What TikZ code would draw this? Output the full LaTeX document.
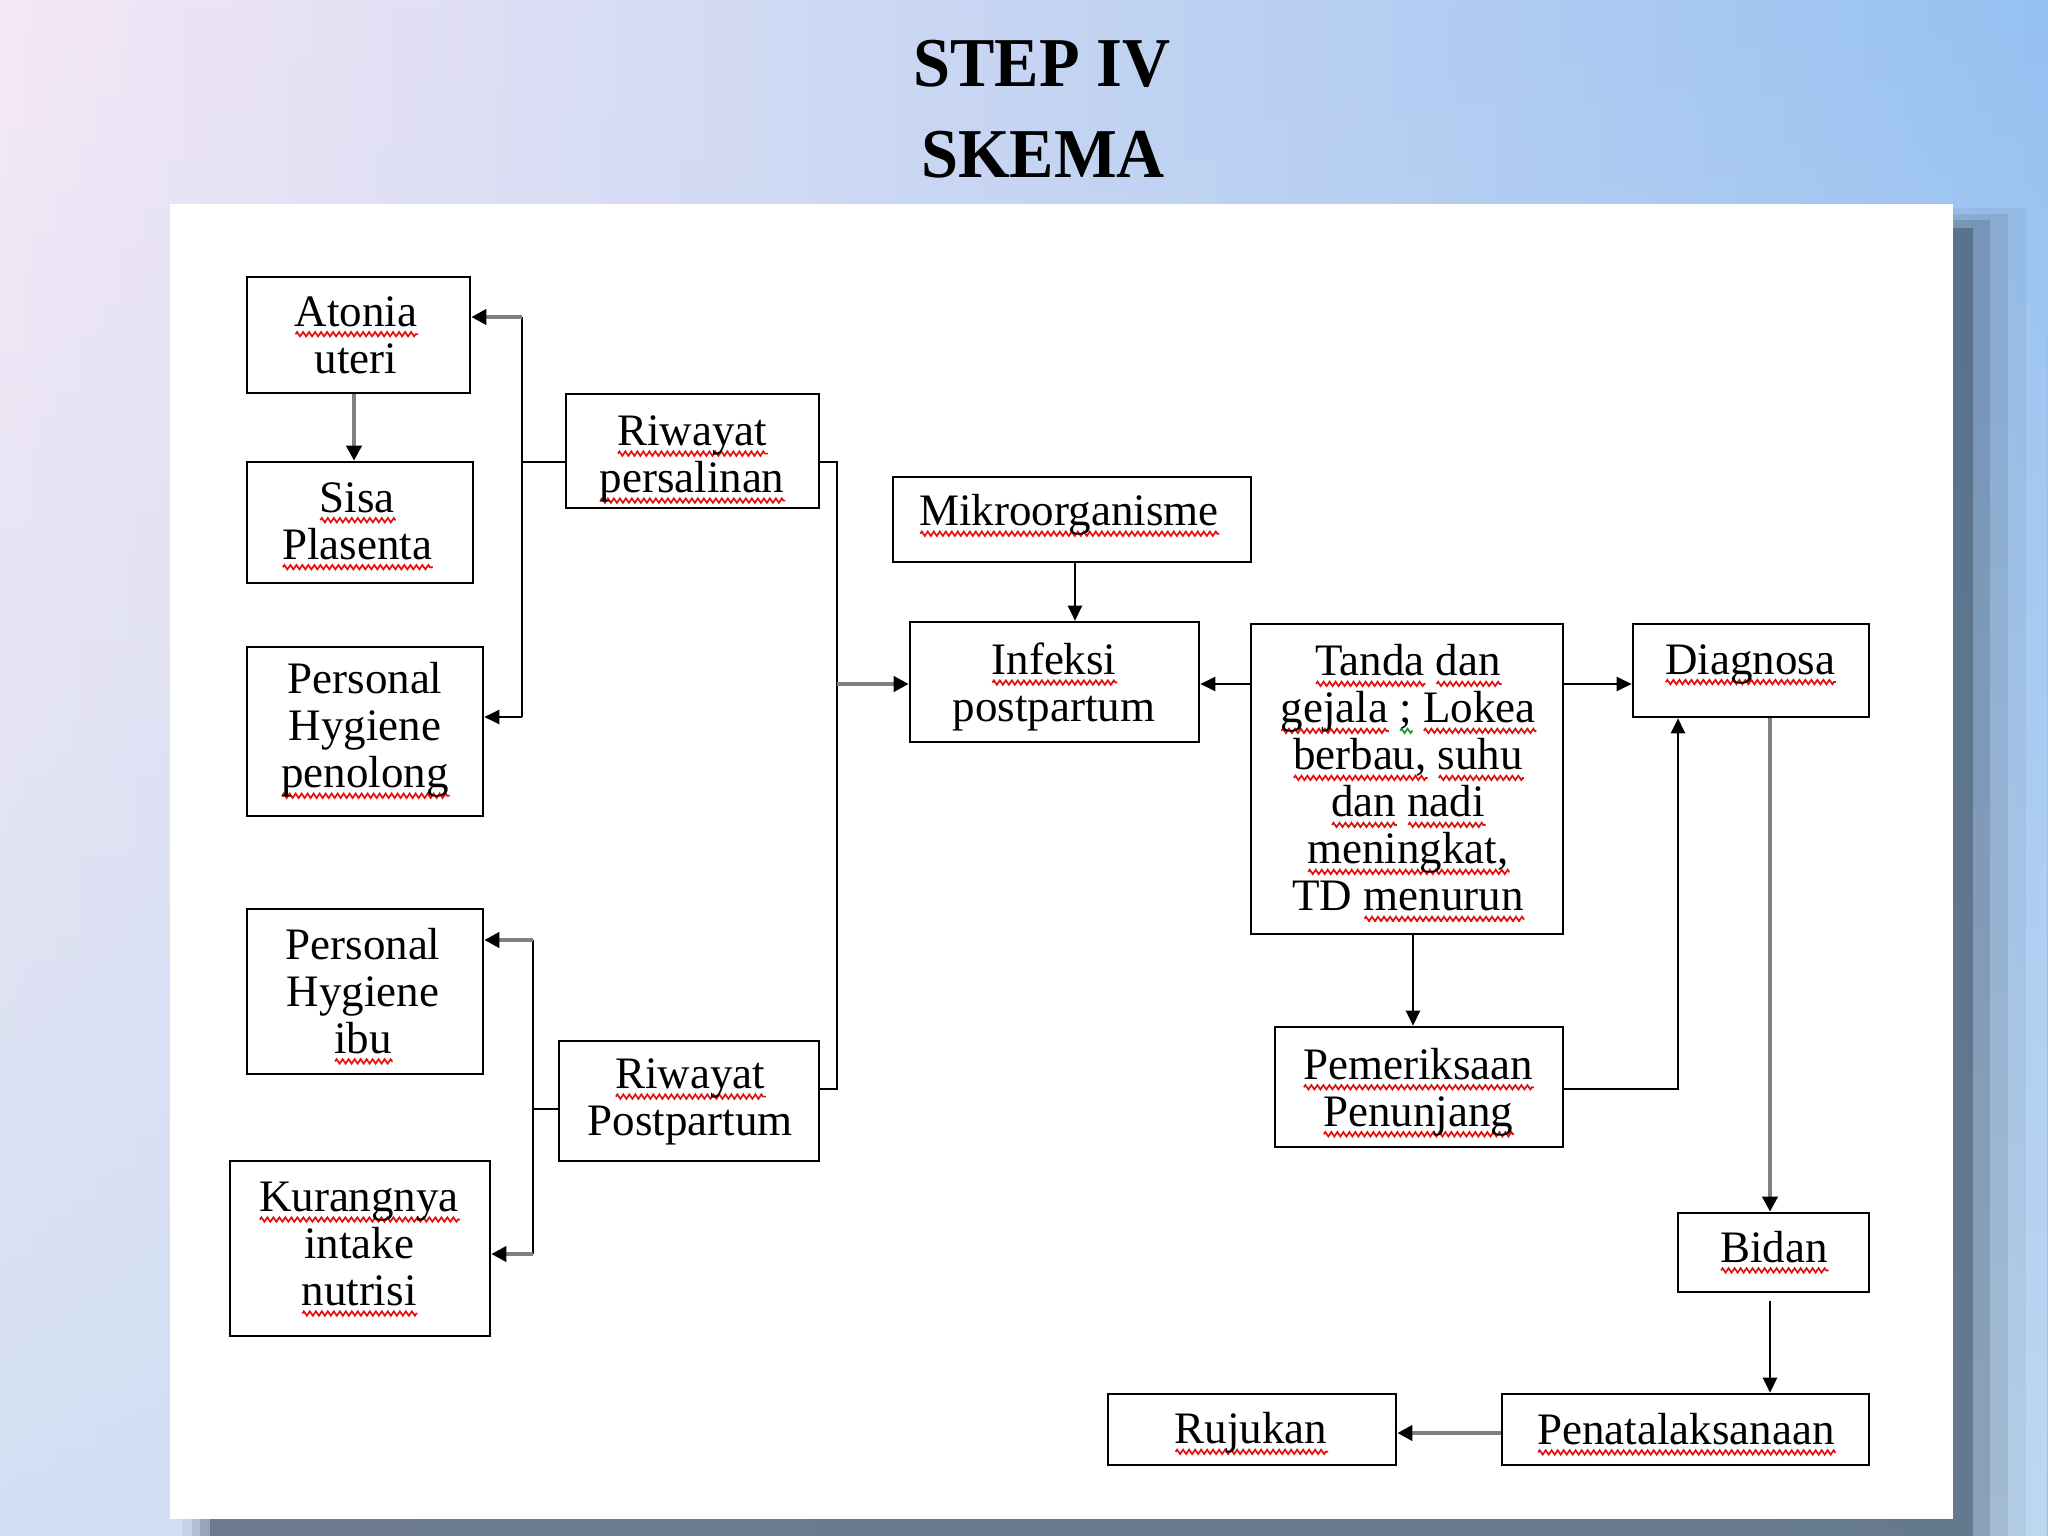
\documentclass[tikz,border=0pt]{standalone}
\usepackage{fontspec}
\setmainfont{Liberation Serif}
\usetikzlibrary{arrows.meta,decorations.pathmorphing,calc,fadings}
\definecolor{bgL}{HTML}{F5E8F6}
\definecolor{bgR}{HTML}{96C1F1}
\definecolor{bgB}{HTML}{C9DDF1}
\definecolor{shd}{HTML}{2E3E50}
\definecolor{sqred}{HTML}{E01010}
\definecolor{sqgreen}{HTML}{10A020}
\definecolor{lgray}{HTML}{808080}
\newsavebox\sqbox
\newlength\sqlen
\newcommand\sqline[2]{\sbox\sqbox{#2}\setlength\sqlen{\wd\sqbox}%
  \rlap{\smash{\tikz[baseline=0pt,x=1pt,y=1pt]\draw[#1,line width=1.7pt,decorate,decoration={zigzag,segment length=6pt,amplitude=2.2pt}] (0pt,-8pt) -- (\the\sqlen,-8pt);}}\usebox\sqbox}
\newcommand\sqw[1]{\sqline{sqred}{#1}}
\newcommand\sqg[1]{\sqline{sqgreen}{#1}}
\begin{document}
\begin{tikzpicture}[x=1pt,y=-1pt,
  box/.style={draw=black, line width=2.6pt, inner sep=0pt},
  txt/.style={align=center, inner sep=0pt, font=\fontsize{45}{47}\selectfont},
  title/.style={font=\bfseries\fontsize{70}{70}\selectfont, anchor=base, inner sep=0pt},
  plain/.style={line width=2.2pt},
  conn/.style={line width=2.2pt, -{Triangle[length=15pt,width=14pt]}},
  connG/.style={line width=4pt, draw=lgray, -{Triangle[length=15pt,width=15pt,black]}}]
\useasboundingbox (0,0) rectangle (2048,1536);
% background
\shade[left color=bgL, right color=bgR] (0,0) rectangle (2048,1536);
\fill[bgB, path fading=north, fill opacity=0.8] (0,0) rectangle (2048,1536);
% shadow of the panel
\fill[shd, opacity=0.07] (182,208) rectangle (2026,1536);
\fill[shd, opacity=0.12] (192,214) rectangle (2008,1536);
\fill[shd, opacity=0.20] (200,220) rectangle (1990,1536);
\fill[shd, opacity=0.40] (210,228) rectangle (1973,1536);
% panel
\fill[white] (170,204) rectangle (1953,1519);
% title
\node[title] (t1) at (1042,87) {\scalebox{0.95}[1]{STEP IV}};
\node[title] (t2) at (1043,177) {\scalebox{0.95}[1]{SKEMA}};
% boxes
\node[box, minimum width=223pt, minimum height=116pt] (atonia) at (358.5,335) {};
\node[box, minimum width=226pt, minimum height=121pt] (sisa) at (360,522.5) {};
\node[box, minimum width=236pt, minimum height=169pt] (penolong) at (365,731.5) {};
\node[box, minimum width=253pt, minimum height=114pt] (rpers) at (692.5,451) {};
\node[box, minimum width=358pt, minimum height=85pt] (mikro) at (1072,519.5) {};
\node[box, minimum width=289pt, minimum height=120pt] (infeksi) at (1054.5,682) {};
\node[box, minimum width=312pt, minimum height=310pt] (tanda) at (1407,779) {};
\node[box, minimum width=236pt, minimum height=93pt] (diag) at (1751,670.5) {};
\node[box, minimum width=236pt, minimum height=165pt] (ibu) at (365,991.5) {};
\node[box, minimum width=260pt, minimum height=120pt] (rpost) at (689,1101) {};
\node[box, minimum width=260pt, minimum height=175pt] (kurang) at (360,1248.5) {};
\node[box, minimum width=288pt, minimum height=120pt] (pemer) at (1419,1087) {};
\node[box, minimum width=191pt, minimum height=79pt] (bidan) at (1773.5,1252.5) {};
\node[box, minimum width=367pt, minimum height=71pt] (penata) at (1685.5,1429.5) {};
\node[box, minimum width=288pt, minimum height=71pt] (rujukan) at (1252,1429.5) {};
% texts
\node[txt] (atonia-t) at (356,335) {\sqw{Atonia}\\uteri};
\node[txt] (sisa-t) at (357,521) {\sqw{Sisa}\\\sqw{Plasenta}};
\node[txt] (penolong-t) at (365,730) {Personal\\Hygiene\\\sqw{penolong}};
\node[txt] (rpers-t) at (692,459) {\sqw{Riwayat}\\\sqw{persalinan}};
\node[txt] (mikro-t) at (1069,515) {\sqw{Mikroorganisme}};
\node[txt] (infeksi-t) at (1054,687) {\sqw{Infeksi}\\postpartum};
\node[txt] (tanda-t) at (1408,778) {\sqw{Tanda} \sqw{dan}\\\sqw{gejala} \sqg{;} \sqw{Lokea}\\\sqw{berbau,} \sqw{suhu}\\\sqw{dan} \sqw{nadi}\\\sqw{meningkat,}\\TD \sqw{menurun}};
\node[txt] (diag-t) at (1750,664) {\sqw{Diagnosa}};
\node[txt] (ibu-t) at (363,991) {Personal\\Hygiene\\\sqw{ibu}};
\node[txt] (rpost-t) at (690,1102) {\sqw{Riwayat}\\Postpartum};
\node[txt] (kurang-t) at (359,1244) {\sqw{Kurangnya}\\intake\\\sqw{nutrisi}};
\node[txt] (pemer-t) at (1418,1092) {\sqw{Pemeriksaan}\\\sqw{Penunjang}};
\node[txt] (bidan-t) at (1774,1247) {\sqw{Bidan}};
\node[txt] (penata-t) at (1686,1429) {\sqw{Penatalaksanaan}};
\node[txt] (rujukan-t) at (1251,1433) {\sqw{Rujukan}};
% helper coordinates
\coordinate (jL) at (522,462);
\coordinate (jLt) at (522,317);
\coordinate (jLb) at (522,717);
\coordinate (as) at (354,0);
\coordinate (jR) at (837,462);
\coordinate (jRm) at (837,684);
\coordinate (jRb) at (837,1089);
\coordinate (jB) at (533,1109);
\coordinate (jBt) at (533,940);
\coordinate (jBb) at (533,1254);
\coordinate (mi) at (1075,0);
\coordinate (ty) at (0,684);
\coordinate (tp) at (1413,0);
\coordinate (pd) at (1678,1089);
\coordinate (db) at (1770,0);
\coordinate (pr) at (0,1433);
% connectors
\draw[plain] (rpers.west |- jL) -- (jL);
\draw[plain] (jLt) -- (jLb);
\draw[connG] (jLt) -- (atonia.east |- jLt);
\draw[conn] (jLb) -- (penolong.east |- jLb);
\draw[connG] (atonia.south -| as) -- (sisa.north -| as);
\draw[plain] (rpers.east |- jR) -- (jR) -- (jRb) -- (rpost.east |- jRb);
\draw[connG] (jRm) -- (infeksi.west |- jRm);
\draw[plain] (rpost.west |- jB) -- (jB);
\draw[plain] (jBt) -- (jBb);
\draw[connG] (jBt) -- (ibu.east |- jBt);
\draw[connG] (jBb) -- (kurang.east |- jBb);
\draw[conn] (mikro.south -| mi) -- (infeksi.north -| mi);
\draw[conn] (tanda.west |- ty) -- (infeksi.east |- ty);
\draw[conn] (tanda.east |- ty) -- (diag.west |- ty);
\draw[conn] (tanda.south -| tp) -- (pemer.north -| tp);
\draw[conn] (pemer.east |- pd) -- (pd) -- (diag.south -| pd);
\draw[connG] (diag.south -| db) -- (bidan.north -| db);
\draw[conn] ($(bidan.south -| db)+(0,8)$) -- (penata.north -| db);
\draw[connG] (penata.west |- pr) -- (rujukan.east |- pr);
\end{tikzpicture}
\end{document}
